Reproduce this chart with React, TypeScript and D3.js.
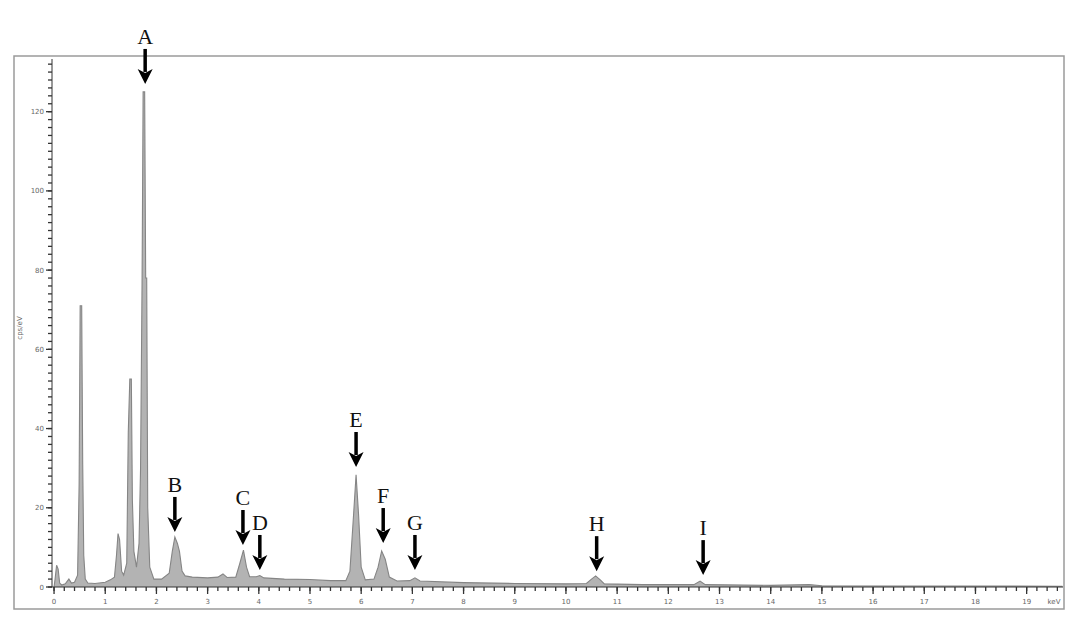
import React from "react";
import * as d3 from "d3";

// Spectrum: energy (keV) and counts (cps/eV)
const energies = [
  0.0, 0.02, 0.05, 0.08, 0.11, 0.15, 0.22, 0.29, 0.34, 0.4, 0.46, 0.49, 0.51, 0.54, 0.56, 0.58, 0.61, 0.66,
  0.8, 1.0, 1.1, 1.18, 1.22, 1.25, 1.28, 1.32, 1.36, 1.42, 1.45, 1.48, 1.51, 1.53, 1.56, 1.61, 1.66, 1.69,
  1.72, 1.74, 1.77, 1.79, 1.81, 1.83, 1.87, 1.95, 2.1, 2.25, 2.31, 2.36, 2.41, 2.45, 2.5, 2.56, 2.7, 3.0,
  3.2, 3.3, 3.38, 3.55, 3.63, 3.7, 3.76, 3.82, 3.95, 4.02, 4.1, 4.5, 5.0, 5.4, 5.7, 5.78, 5.85, 5.9, 5.95,
  6.0, 6.08, 6.25, 6.33, 6.4, 6.47, 6.55, 6.7, 6.95, 7.05, 7.15, 8.0, 9.0, 10.0, 10.4, 10.5, 10.58, 10.67,
  10.75, 11.5, 12.5, 12.62, 12.72, 14.0, 14.75, 15.0, 17.0, 19.7,
];
const counts = [
  0, 2, 5.5, 4.5, 1, 0.5, 0.8, 2, 1, 1.2, 3, 26, 71, 71, 31, 8, 2, 1,
  0.9, 1.2, 1.8, 2.5, 8, 13.5, 12, 4, 3, 6, 39, 52.5, 52.5, 22, 9, 5, 11, 30,
  78, 125, 125, 78, 78, 20, 5, 2, 2, 3.5, 9, 12.6, 11, 9, 4, 2.8, 2.5, 2.3,
  2.5, 3.3, 2.4, 2.5, 6, 9.3, 5, 2.6, 2.6, 2.9, 2.3, 2.0, 1.9, 1.6, 1.6, 4, 18, 28.3, 18,
  5, 1.8, 2, 5, 9.1, 7, 2.5, 1.5, 1.6, 2.3, 1.5, 1.1, 0.9, 0.8, 0.9, 2, 2.8, 1.8,
  0.8, 0.6, 0.6, 1.5, 0.6, 0.4, 0.6, 0.3, 0.25, 0.2,
];

// Peak annotations: letter, energy, value where arrow tip points
const peakLetters = ["A", "B", "C", "D", "E", "F", "G", "H", "I"];
const peakEnergies = [1.78, 2.36, 3.69, 4.02, 5.9, 6.43, 7.05, 10.6, 12.68];
const peakTipValues = [127, 13.9, 10.6, 4.3, 30.3, 11.1, 4.3, 4.0, 3.0];

const xMajorTicks = d3.range(0, 20, 1);
const xMinorTicks = d3.range(0, 19.75, 0.2);
const yMajorTicks = [0, 20, 40, 60, 80, 100, 120];
const yMinorTicks = d3.range(0, 134, 2);

export default function App() {
  const W = 1081;
  const H = 626;
  const x = d3.scaleLinear().domain([-0.04, 19.71]).range([52, 1063]);
  const y = d3.scaleLinear().domain([0, 133.3]).range([587, 59]);

  const pts = energies.map((e, i) => [e, counts[i]] as [number, number]);
  const area = d3
    .area<[number, number]>()
    .x((d) => x(d[0]))
    .y0(y(0))
    .y1((d) => y(d[1]))
    .curve(d3.curveLinear);
  const line = d3
    .line<[number, number]>()
    .x((d) => x(d[0]))
    .y((d) => y(d[1]))
    .curve(d3.curveLinear);

  const arrowLen = 35;
  const headH = 15;
  const headW = 15;

  return (
    <svg
      width={W}
      height={H}
      style={{ position: "absolute", left: 0, top: 0, background: "#fff" }}
    >
      <rect x={0} y={0} width={W} height={H} fill="#fff" />
      {/* outer frame */}
      <rect x={14} y={56} width={1050} height={553} fill="none" stroke="#9a9a9a" strokeWidth={1.5} />

      {/* spectrum */}
      <path d={area(pts) || ""} fill="#b3b3b3" stroke="none" />
      <path d={line(pts) || ""} fill="none" stroke="#858585" strokeWidth={1.1} />

      {/* y axis */}
      <line x1={52} x2={52} y1={y(133.3)} y2={y(0)} stroke="#333" strokeWidth={1} />
      {yMinorTicks.map((t) => (
        <line key={"ym" + t} x1={48} x2={52} y1={y(t)} y2={y(t)} stroke="#333" strokeWidth={1.3} />
      ))}
      {yMajorTicks.map((t) => (
        <g key={"yM" + t}>
          <line x1={46} x2={52} y1={y(t)} y2={y(t)} stroke="#333" strokeWidth={1.3} />
          <text
            x={44}
            y={y(t) + 2.5}
            textAnchor="end"
            fontSize={7}
            fontFamily="'DejaVu Sans', sans-serif"
            fill="#666"
          >
            {t}
          </text>
        </g>
      ))}
      <text
        transform={`translate(22,328) rotate(-90)`}
        textAnchor="middle"
        fontSize={7}
        fontFamily="'DejaVu Sans', sans-serif"
        fill="#666"
      >
        cps/eV
      </text>

      {/* x axis */}
      <line x1={52} x2={1063} y1={587} y2={587} stroke="#333" strokeWidth={1} />
      {xMinorTicks.map((t) => (
        <line key={"xm" + t} x1={x(t)} x2={x(t)} y1={587} y2={591} stroke="#333" strokeWidth={1.3} />
      ))}
      {xMajorTicks.map((t) => (
        <g key={"xM" + t}>
          <line x1={x(t)} x2={x(t)} y1={587} y2={594} stroke="#333" strokeWidth={1.3} />
          <text
            x={x(t)}
            y={604}
            textAnchor="middle"
            fontSize={7}
            fontFamily="'DejaVu Sans', sans-serif"
            fill="#666"
          >
            {t}
          </text>
        </g>
      ))}
      <text x={1054} y={604} textAnchor="middle" fontSize={7} fontFamily="'DejaVu Sans', sans-serif" fill="#666">
        keV
      </text>

      {/* annotations */}
      {peakLetters.map((L, i) => {
        const cx = x(peakEnergies[i]);
        const tip = y(peakTipValues[i]);
        const top = tip - arrowLen;
        return (
          <g key={L}>
            <text
              x={cx}
              y={top - 5}
              textAnchor="middle"
              fontSize={22}
              fontFamily="'Liberation Serif', 'DejaVu Serif', serif"
              fill="#111"
            >
              {L}
            </text>
            <line x1={cx} x2={cx} y1={top} y2={tip - headH + 3} stroke="#000" strokeWidth={3.5} />
            <path
              d={`M${cx - headW / 2},${tip - headH} L${cx},${tip - headH + 4} L${cx + headW / 2},${tip - headH} L${cx},${tip} Z`}
              fill="#000"
            />
          </g>
        );
      })}
    </svg>
  );
}
